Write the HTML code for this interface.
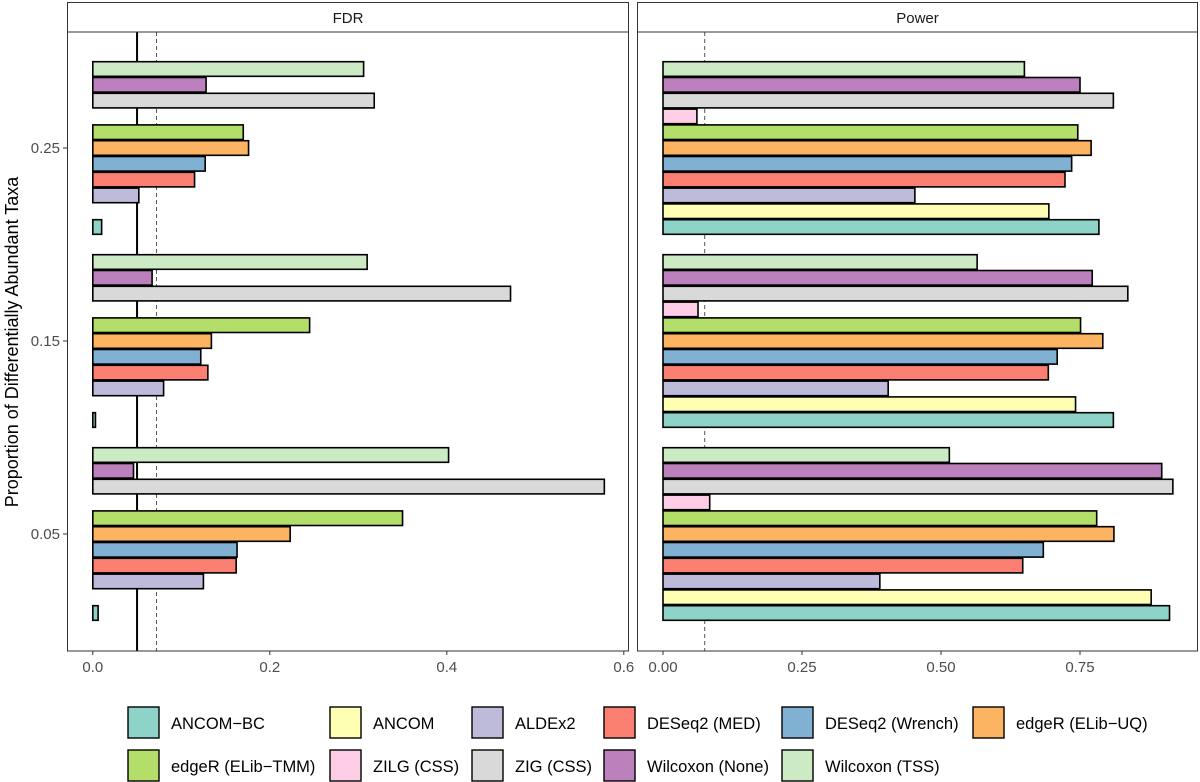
<!DOCTYPE html>
<html><head><meta charset="utf-8"><style>
body{margin:0;background:#fff;}
svg{display:block;font-family:"Liberation Sans",Arial,sans-serif;}
</style></head><body>
<svg id="chart" width="1200" height="782" viewBox="0 0 1200 782">
</svg>
<script>
const methods = ["ANCOM-BC","ANCOM","ALDEx2","DESeq2 (MED)","DESeq2 (Wrench)","edgeR (ELib-UQ)","edgeR (ELib-TMM)","ZILG (CSS)","ZIG (CSS)","Wilcoxon (None)","Wilcoxon (TSS)"];
const colors = ["#8dd3c7","#ffffb3","#bebada","#fb8072","#80b1d3","#fdb462","#b3de69","#fccde5","#d9d9d9","#bc80bd","#ccebc5"];
const proportions = [0.05, 0.15, 0.25];
const fdr005 = [0.006, null, 0.125, 0.162, 0.163, 0.223, 0.35, null, 0.578, 0.046, 0.402];
const fdr015 = [0.003, null, 0.08, 0.13, 0.122, 0.134, 0.245, null, 0.472, 0.067, 0.31];
const fdr025 = [0.01, null, 0.052, 0.115, 0.127, 0.176, 0.17, null, 0.318, 0.128, 0.306];
const pow005 = [0.911, 0.878, 0.39, 0.647, 0.684, 0.811, 0.78, 0.084, 0.917, 0.897, 0.515];
const pow015 = [0.81, 0.742, 0.405, 0.693, 0.709, 0.791, 0.751, 0.063, 0.836, 0.772, 0.565];
const pow025 = [0.784, 0.694, 0.453, 0.723, 0.735, 0.77, 0.746, 0.061, 0.81, 0.75, 0.65];
const fdrTicks = [0, 0.2, 0.4, 0.6];
const fdrTickLabels = ["0.0","0.2","0.4","0.6"];
const powTicks = [0, 0.25, 0.5, 0.75];
const powTickLabels = ["0.00","0.25","0.50","0.75"];
const yTickLabels = ["0.05","0.15","0.25"];

const NS="http://www.w3.org/2000/svg";
const svg=document.getElementById('chart');
function mk(tag,attrs,parent){const e=document.createElementNS(NS,tag);for(const k in attrs)e.setAttribute(k,attrs[k]);(parent||svg).appendChild(e);return e;}
function yScale(v){return 534-(v-0.05)*1930;}
const slot=15.8;
const panels=[
 {name:"FDR",x0:67,x1:629,zero:92.8,k:885,data:[fdr005,fdr015,fdr025],ticks:fdrTicks,labels:fdrTickLabels,solid:0.05,dash:0.072},
 {name:"Power",x0:637,x1:1198,zero:663,k:556,data:[pow005,pow015,pow025],ticks:powTicks,labels:powTickLabels,solid:null,dash:0.075}
];
const panelTop=32,panelBottom=651;
panels.forEach((p,pi)=>{
  const g=mk('g',{});
  
  
  const xs=v=>p.zero+v*p.k;
  const strip=mk('rect',{x:p.x0+0.5,y:2.5,width:p.x1-p.x0-1,height:panelTop-2.5,fill:'#fff',stroke:'#333','stroke-width':1},g);
  
  
  const st=mk('text',{x:(p.x0+p.x1)/2,y:23,'text-anchor':'middle','font-size':15,fill:'#1a1a1a'},g);
  st.textContent=p.name;
  
  
  if(p.solid!==null){
    const l=mk('line',{x1:xs(p.solid),x2:xs(p.solid),y1:panelTop,y2:panelBottom,stroke:'#000','stroke-width':2},g);
    
    
  }
  const dl=mk('line',{x1:xs(p.dash),x2:xs(p.dash),y1:panelTop,y2:panelBottom,stroke:'#555','stroke-width':1,'stroke-dasharray':'4,3'},g);
  
  
  p.data.forEach((series,gi)=>{
    const cy=yScale(proportions[gi]);
    series.forEach((v,mi)=>{
      if(v===null)return;
      const yTop=cy+(5-mi)*slot-slot/2+0.6;
      const r=mk('rect',{x:xs(0),y:yTop,width:Math.max(v*p.k,1),height:slot-1.2,fill:colors[mi],stroke:'#000','stroke-width':1.6},g);
      
      
    });
  });
  const border=mk('rect',{x:p.x0+0.5,y:panelTop,width:p.x1-p.x0-1,height:panelBottom-panelTop,fill:'none',stroke:'#333','stroke-width':1},g);
  
  
  p.ticks.forEach((t,i)=>{
    mk('line',{x1:xs(t),x2:xs(t),y1:panelBottom,y2:panelBottom+4,stroke:'#333','stroke-width':1},g);
    const tl=mk('text',{x:xs(t),y:panelBottom+21,'text-anchor':'middle','font-size':15,fill:'#4d4d4d'},g);
    tl.textContent=p.labels[i];
    
    
  });
});
proportions.forEach((v,i)=>{
  const y=yScale(v);
  mk('line',{x1:63,x2:67,y1:y,y2:y,stroke:'#333','stroke-width':1});
  const t=mk('text',{x:60,y:y+5,'text-anchor':'end','font-size':15,fill:'#4d4d4d'});
  t.textContent=yTickLabels[i];
  
  
});
const yt=mk('text',{x:0,y:0,transform:'translate(18,342) rotate(-90)','text-anchor':'middle','font-size':18,fill:'#000'});
yt.textContent='Proportion of Differentially Abundant Taxa';


const legX=[128,330,472,604,782,973];
const legY=[707,750];
methods.forEach((m,i)=>{
  const row=Math.floor(i/6),col=i%6;
  const g=mk('g',{});
  
  
  mk('rect',{x:legX[col],y:legY[row],width:31,height:31,fill:colors[i],stroke:'#000','stroke-width':1.4},g);
  const t=mk('text',{x:legX[col]+43,y:legY[row]+22,'font-size':16.5,fill:'#000'},g);
  t.textContent=m.replace('-','\u2212');
});
</script>
</body></html>
